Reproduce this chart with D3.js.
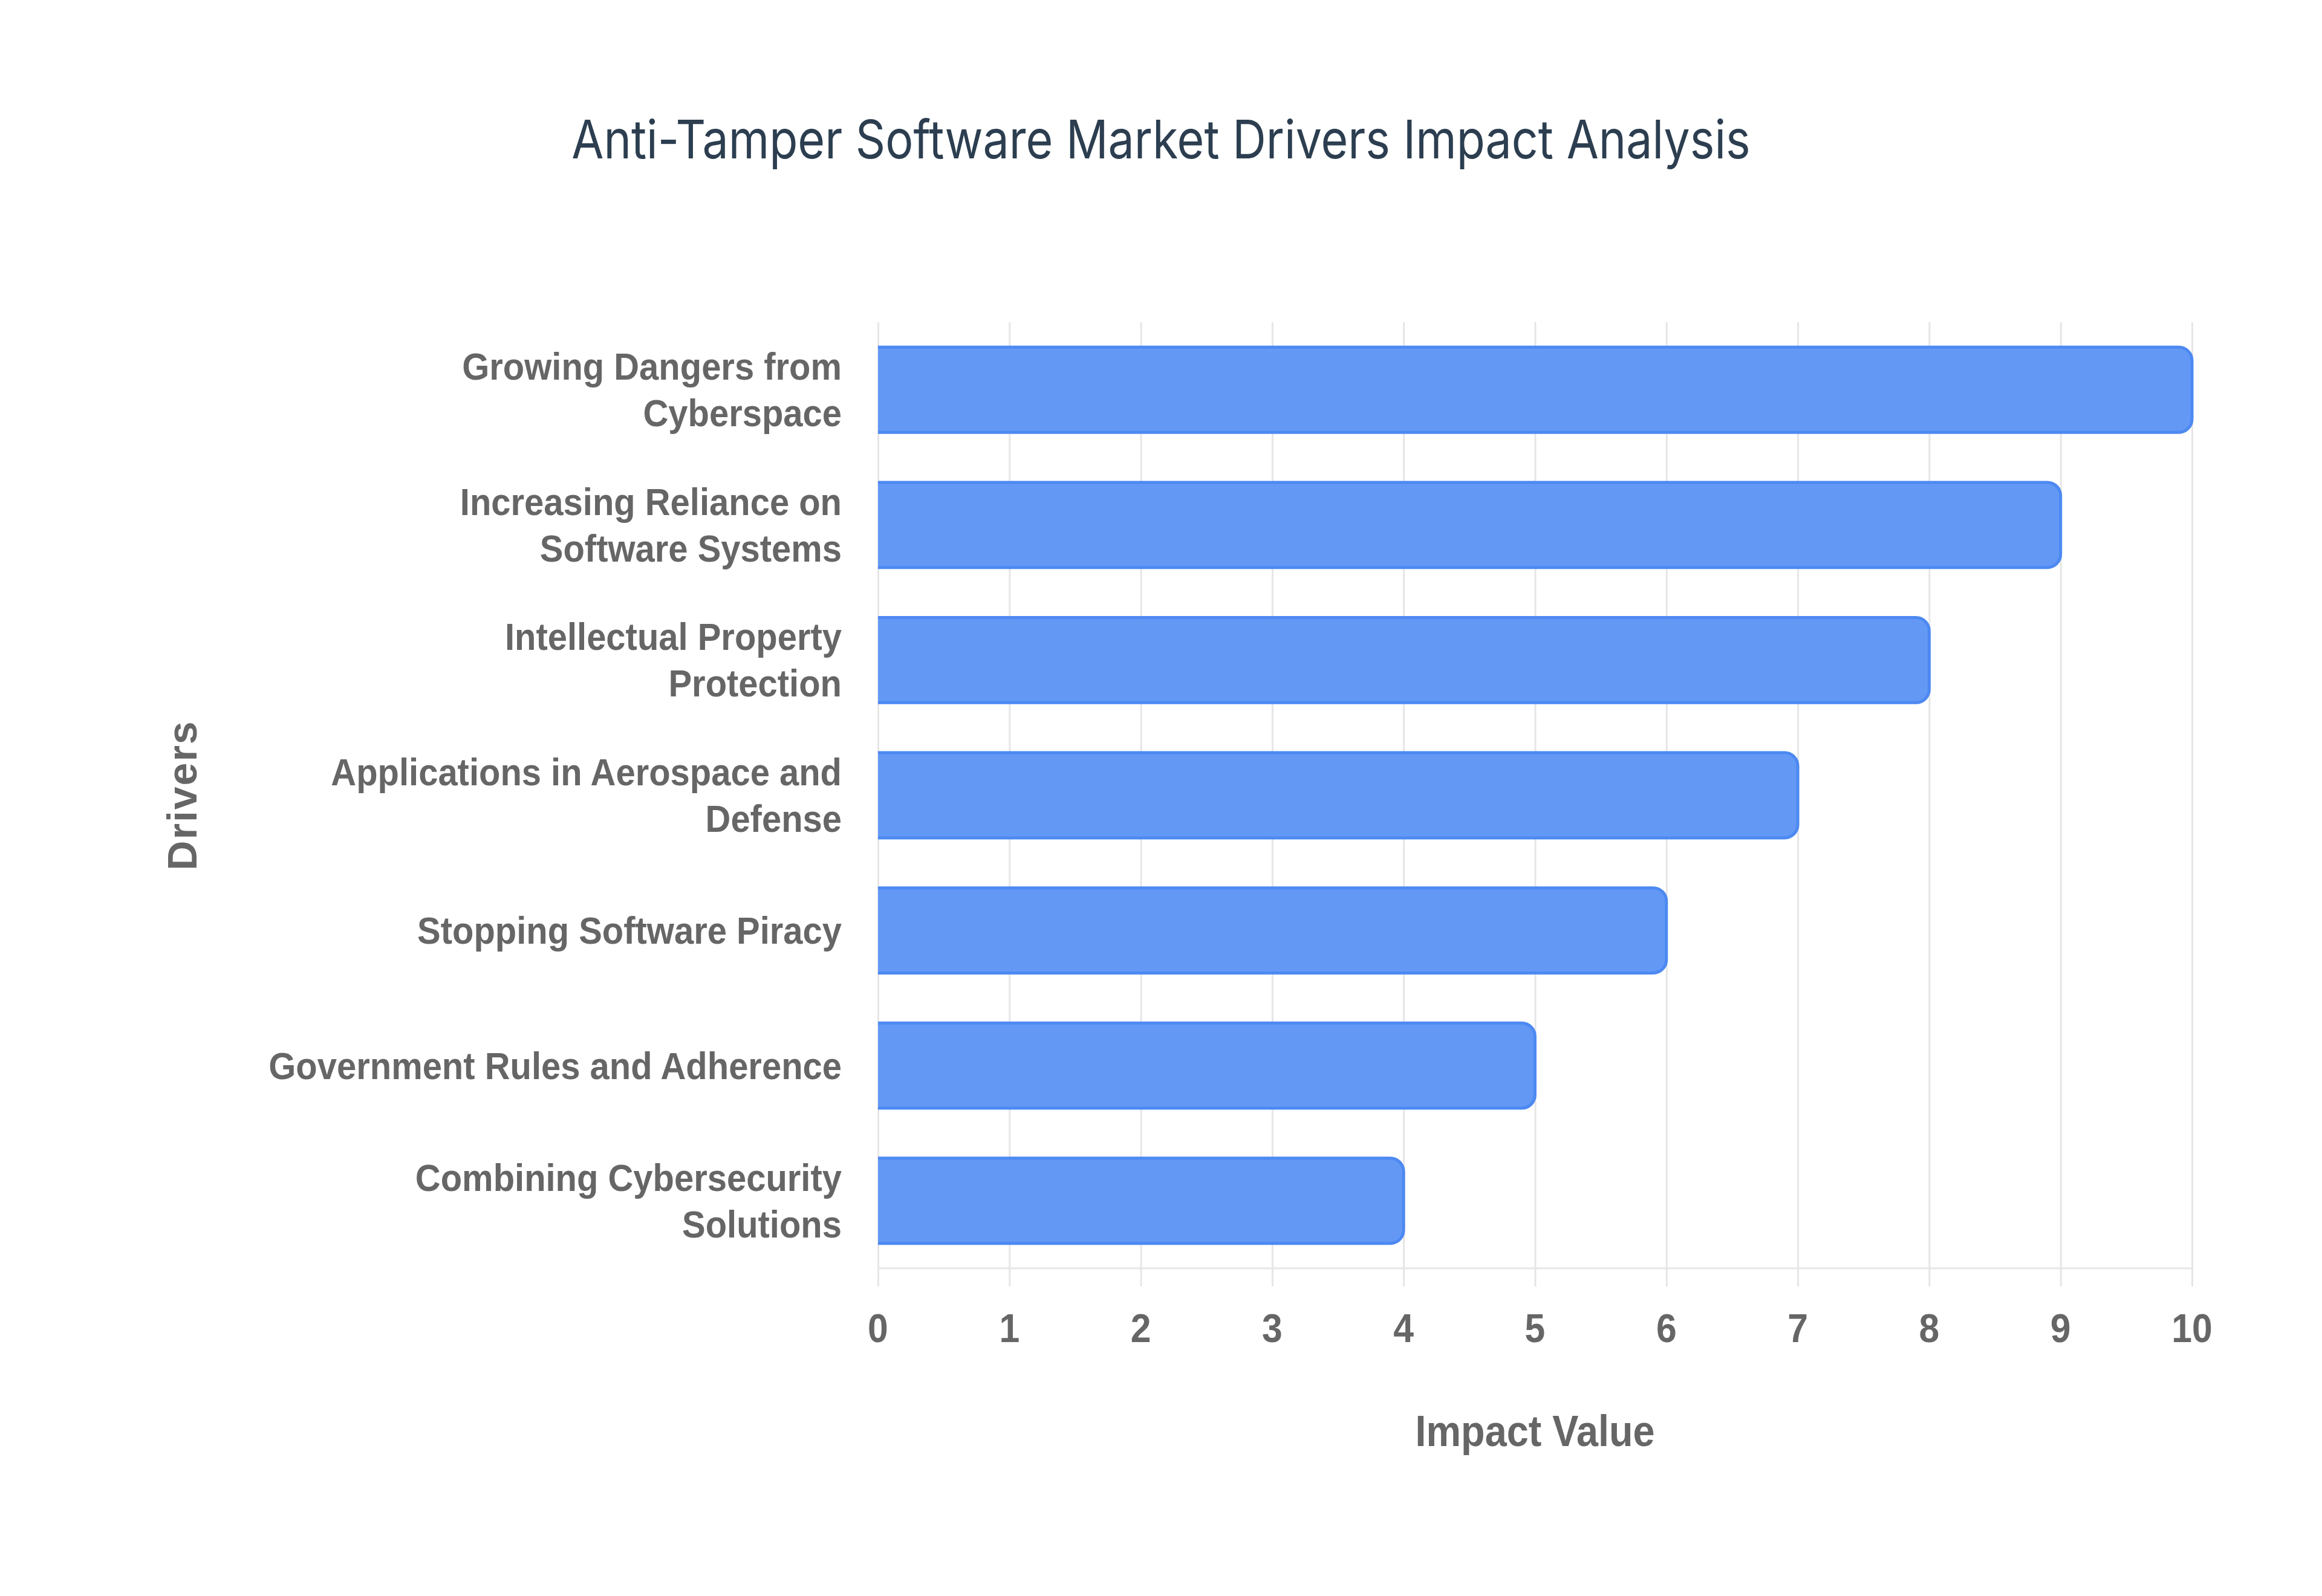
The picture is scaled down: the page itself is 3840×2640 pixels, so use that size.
<!DOCTYPE html>
<html>
<head>
<meta charset="utf-8">
<script src="https://cdn.jsdelivr.net/npm/d3@7"></script>
<style>
    html, body { margin: 0; padding: 0; background: #ffffff; }
    svg { display: block; }
</style>
</head>
<body>
<svg id="chart" width="3840" height="2640"></svg>
<script>
// chart data
const drivers = [
    "Growing Dangers from Cyberspace",
    "Increasing Reliance on Software Systems",
    "Intellectual Property Protection",
    "Applications in Aerospace and Defense",
    "Stopping Software Piracy",
    "Government Rules and Adherence",
    "Combining Cybersecurity Solutions"
];
const driverLines = [
    ["Growing Dangers from", "Cyberspace"],
    ["Increasing Reliance on", "Software Systems"],
    ["Intellectual Property", "Protection"],
    ["Applications in Aerospace and", "Defense"],
    ["Stopping Software Piracy"],
    ["Government Rules and Adherence"],
    ["Combining Cybersecurity", "Solutions"]
];
const impactValues = [10, 9, 8, 7, 6, 5, 4];
const xTicks = [0, 1, 2, 3, 4, 5, 6, 7, 8, 9, 10];

const titleText = "Anti-Tamper Software Market Drivers Impact Analysis";
const xTitle = "Impact Value";
const yTitle = "Drivers";

(function () {
    const TEXT_GREY = "#666666";
    const GRID = "#e6e6e6";
    const BAR_FILL = "#6399f5";
    const BAR_EDGE = "#4d89f2";
    const SQUEEZE = 0.92;   // labels look horizontally condensed in the reference
    const LABEL_FONT = "'Liberation Sans', Arial, Helvetica, sans-serif";

    const svg = d3.select("#chart");
    const margin = { top: 533, right: 215, bottom: 542, left: 1452 };
    const width = 3840 - margin.left - margin.right;
    const height = 2640 - margin.top - margin.bottom;

    const x = d3.scaleLinear().domain([0, 10]).range([0, width]);
    const y = d3.scaleBand()
        .domain(drivers)
        .range([0, height])
        .paddingInner(0.37)
        .paddingOuter(0.185);

    const g = svg.append("g")
        .attr("transform", `translate(${margin.left},${margin.top})`);

    // title (also a bit condensed)
    svg.append("text")
        .attr("transform", "translate(1920,262) scale(0.875,1)")
        .attr("text-anchor", "middle")
        .style("font-family", "Inter, 'Noto Sans', sans-serif")
        .style("font-size", "88px")
        .style("fill", "#2c3e50")
        .text(titleText);

    // vertical grid lines, also acting as tick marks below the axis
    const xAxis = d3.axisBottom(x)
        .tickValues(xTicks)
        .tickSize(-(height + 30))
        .tickFormat("");

    const gridG = g.append("g")
        .attr("transform", `translate(0,${height + 30})`)
        .call(xAxis);
    gridG.select(".domain").remove();
    gridG.selectAll(".tick line")
        .attr("stroke", GRID)
        .attr("stroke-width", 3);

    // bottom axis line
    g.append("line")
        .attr("x1", x(0)).attr("x2", x(10))
        .attr("y1", height).attr("y2", height)
        .attr("stroke", GRID)
        .attr("stroke-width", 3);

    // tick labels
    g.append("g")
        .selectAll("text")
        .data(xTicks)
        .enter().append("text")
        .attr("transform", d => `translate(${x(d)},${height + 122}) scale(${SQUEEZE},1)`)
        .attr("text-anchor", "middle")
        .style("font-family", LABEL_FONT)
        .style("font-weight", "bold")
        .style("font-size", "66px")
        .style("fill", TEXT_GREY)
        .text(d => d);

    // bars: square at the left, rounded at the right end
    const radius = 22;
    function barShape(d, closed) {
        const x0 = x(0), x1 = x(d.value);
        const y0 = y(d.name), y1 = y0 + y.bandwidth();
        const r = Math.min(radius, (x1 - x0) / 2);
        const p = d3.path();
        p.moveTo(x0, y0);
        p.lineTo(x1 - r, y0);
        p.arcTo(x1, y0, x1, y0 + r, r);
        p.lineTo(x1, y1 - r);
        p.arcTo(x1, y1, x1 - r, y1, r);
        p.lineTo(x0, y1);
        if (closed) p.closePath();
        return p.toString();
    }

    const barData = drivers.map((name, i) => ({ name, value: impactValues[i] }));

    const bars = g.append("g").attr("class", "bars")
        .selectAll("g")
        .data(barData)
        .enter().append("g");

    bars.append("path")
        .attr("d", d => barShape(d, true))
        .attr("fill", BAR_FILL);

    bars.append("path")
        .attr("d", d => barShape(d, false))
        .attr("fill", "none")
        .attr("stroke", BAR_EDGE)
        .attr("stroke-width", 5);

    // category labels, wrapped over one or two lines
    const lineGap = 77;
    const labelG = g.append("g")
        .selectAll("g")
        .data(drivers)
        .enter().append("g");

    labelG.each(function (name, i) {
        const lines = driverLines[i];
        const cy = y(name) + y.bandwidth() / 2;
        const first = cy + 22 - (lines.length - 1) * lineGap / 2;
        d3.select(this).selectAll("text")
            .data(lines)
            .enter().append("text")
            .attr("transform", (t, j) => `translate(-60,${first + j * lineGap}) scale(${SQUEEZE},1)`)
            .attr("text-anchor", "end")
            .style("font-family", LABEL_FONT)
            .style("font-weight", "bold")
            .style("font-size", "63px")
            .style("fill", TEXT_GREY)
            .text(t => t);
    });

    // axis titles
    svg.append("text")
        .attr("transform", `translate(${margin.left + width / 2},2392) scale(0.9,1)`)
        .attr("text-anchor", "middle")
        .style("font-family", LABEL_FONT)
        .style("font-weight", "bold")
        .style("font-size", "72px")
        .style("fill", TEXT_GREY)
        .text(xTitle);

    svg.append("text")
        .attr("transform", `translate(325,${margin.top + height / 2}) rotate(-90)`)
        .attr("text-anchor", "middle")
        .style("font-family", LABEL_FONT)
        .style("font-weight", "bold")
        .style("font-size", "68px")
        .style("letter-spacing", "2px")
        .style("fill", TEXT_GREY)
        .text(yTitle);
})();
</script>
</body>
</html>
